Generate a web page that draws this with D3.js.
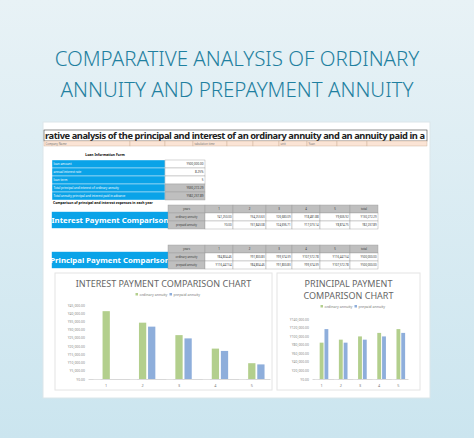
<!DOCTYPE html>
<html><head><meta charset="utf-8">
<script src="https://cdn.jsdelivr.net/npm/d3@7"></script>
<style>body{margin:0;overflow:hidden}text{font-family:"Noto Sans",sans-serif}</style>
</head><body>
<script>
// data
const years = [1, 2, 3, 4, 5];
const interestOrdinary = [41250.00, 34253.63, 26680.09, 18481.88, 9606.92];
const interestPrepaid = [0, 31843.08, 24696.71, 17073.14, 8874.75];
const principalOrdinary = [84804.46, 91800.83, 99374.39, 107572.78, 116447.54];
const principalPrepaid = [116447.54, 84804.46, 91800.83, 99374.39, 107572.78];
const loanLabels = ["loan amount", "annual interest rate", "loan term",
  "Total principal and interest of ordinary annuity", "Total annuity principal and interest paid in advance"];
const loanValues = ["¥500,000.00", "8.25%", "5", "¥630,272.29", "¥582,237.89"];
const interestTotals = ["¥130,272.29", "¥82,237.89"];
const principalTotals = ["¥500,000.00", "¥500,000.00"];

const W = 474, H = 438;
const svg = d3.select("body").append("svg").attr("width", W).attr("height", H);
const defs = svg.append("defs");
const g = defs.append("linearGradient").attr("id", "bg").attr("x1", 0).attr("y1", 0).attr("x2", 0).attr("y2", 1);
g.append("stop").attr("offset", 0).attr("stop-color", "#e8f2f6");
g.append("stop").attr("offset", 1).attr("stop-color", "#cbe5ef");
svg.append("rect").attr("width", W).attr("height", H).attr("fill", "url(#bg)");

["COMPARATIVE ANALYSIS OF ORDINARY", "ANNUITY AND PREPAYMENT ANNUITY"].forEach((t, i) =>
  svg.append("text").attr("x", 237).attr("y", 66 + i * 31).attr("text-anchor", "middle")
    .attr("font-size", 20.5).attr("fill", "#1f80a0").attr("font-weight", 300).text(t));

// card
svg.append("rect").attr("x", 43).attr("y", 122).attr("width", 387).attr("height", 276)
  .attr("fill", "#fff").attr("stroke", "#dbe6ea");

const fmt = v => "¥" + d3.format(",.2f")(v);
const cell = (x, y, w, h, fill, txt, opt = {}) => {
  svg.append("rect").attr("x", x).attr("y", y).attr("width", w).attr("height", h)
    .attr("fill", fill).attr("stroke", opt.stroke || "#9a9a9a").attr("stroke-width", 0.4);
  if (txt !== undefined) svg.append("text")
    .attr("x", opt.anchor === "start" ? x + 1.5 : opt.anchor === "end" ? x + w - 1.5 : x + w / 2)
    .attr("y", y + h / 2 + (opt.fs || 3.4) / 2.8).attr("text-anchor", opt.anchor || "middle")
    .attr("font-size", opt.fs || 3.4).attr("fill", opt.color || "#333").attr("font-weight", opt.bold ? "bold" : null)
    .text(txt);
};

// header strip
svg.append("rect").attr("x", 44).attr("y", 130).attr("width", 383).attr("height", 11).attr("fill", "#fff").attr("stroke", "#444").attr("stroke-width", 0.6);
svg.append("text").attr("x", 45).attr("y", 139).attr("font-size", 9.3).attr("font-weight", "bold").attr("fill", "#222")
  .attr("textLength", 380).text("rative analysis of the principal and interest of an ordinary annuity and an annuity paid in a");
const company = [[44, 86, "Company Name"], [130, 35, ""], [165, 28, ""], [193, 34, "tabulation time"], [227, 26, ""], [253, 26, ""], [279, 28, "unit"], [307, 30, "Yuan"], [337, 30, ""], [367, 60, ""]];
company.forEach(c => cell(c[0], 141, c[1], 5, "#fbe4d5", c[2], { anchor: "start", fs: 2.8, color: "#777", stroke: "#c8a890" }));

svg.append("text").attr("x", 105).attr("y", 156).attr("text-anchor", "middle").attr("font-size", 3.4).attr("font-weight", "bold").text("Loan Information Form");
loanLabels.forEach((l, i) => {
  cell(52, 160 + i * 8, 113, 8, "#0aa3e8", l, { anchor: "start", color: "#fff", fs: 3, stroke: "#fff" });
  cell(165, 160 + i * 8, 40, 8, i >= 3 ? "#bfbfbf" : "#fff", loanValues[i], { anchor: "end", fs: 3 });
});
svg.append("text").attr("x", 53).attr("y", 204).attr("font-size", 3.4).attr("font-weight", "bold").text("Comparison of principal and interest expenses in each year");

const colX = [172, 205, 233, 266, 292, 320, 350, 378, 406];
const block = (y0, title, r1, r2, t1, t2) => {
  cell(52, y0 + 7, 116, 16, "#0aa3e8", title, { fs: 7.8, color: "#fff", bold: true, stroke: "#0aa3e8" });
  const rows = [["years", ...years, "total"], ["ordinary annuity", ...r1.map(fmt), t1], ["prepaid annuity", ...r2.map(fmt), t2]];
  rows.forEach((row, ri) => row.forEach((v, ci) => {
    const fill = ci === 0 || ri === 0 ? "#bfbfbf" : "#fff";
    cell(colX[ci] - (ci === 0 ? 4 : 0), y0 + ri * 8, colX[ci + 1] - colX[ci] + (ci === 0 ? 4 : 0), 8, fill, v, { fs: 2.8, anchor: ri && ci ? "end" : "middle" });
  }));
};
block(205, "Interest Payment Comparison", interestOrdinary, interestPrepaid, ...interestTotals);
block(245, "Principal Payment Comparison", principalOrdinary, principalPrepaid, ...principalTotals);

// charts
const green = "#b3cf8d", blue = "#8eaedb";
const chart = (px, pw, titleLines, top, left, right, bottom, yMax, step, s1, s2) => {
  svg.append("rect").attr("x", px).attr("y", 273).attr("width", pw).attr("height", 117).attr("fill", "#fff").attr("stroke", "#e4e4e4");
  titleLines.forEach((t, i) => svg.append("text").attr("x", px + pw / 2).attr("y", 287 + i * 12).attr("text-anchor", "middle")
    .attr("font-size", 9).attr("fill", "#666").text(t));
  const ly = 287 + titleLines.length * 12 - 4;
  [["ordinary annuity", green], ["prepaid annuity", blue]].forEach((l, i) => {
    const lx = px + pw / 2 - 28 + i * 34;
    svg.append("rect").attr("x", lx).attr("y", ly - 2).attr("width", 2.5).attr("height", 2.5).attr("fill", l[1]);
    svg.append("text").attr("x", lx + 4).attr("y", ly + 0.8).attr("font-size", 3.6).attr("fill", "#777").text(l[0]);
  });
  const x = d3.scaleBand().domain(years).range([left, right]);
  const sub = d3.scaleBand().domain([0, 1, 2]).range([0, x.bandwidth()]).paddingInner(0.2).paddingOuter(0.6);
  const y = d3.scaleLinear().domain([0, yMax]).range([bottom, top]);
  const ya = svg.append("g").attr("transform", `translate(${left},0)`)
    .call(d3.axisLeft(y).tickValues(d3.range(0, yMax + 1, step)).tickSize(0).tickFormat(fmt));
  ya.select(".domain").remove();
  ya.selectAll("text").attr("font-size", 3.4).attr("fill", "#888").attr("font-family", "Noto Sans");
  const xa = svg.append("g").attr("transform", `translate(0,${bottom})`).call(d3.axisBottom(x).tickSize(0));
  xa.select(".domain").attr("stroke", "#d8d8d8");
  xa.selectAll("text").attr("font-size", 3.8).attr("fill", "#777").attr("dy", 5).attr("font-family", "Noto Sans");
  const series = [years.map(v => v), s1, s2];
  [["#e6e6e6", 0], [green, 1], [blue, 2]].forEach(([c, k]) =>
    svg.append("g").selectAll("rect").data(years).join("rect")
      .attr("x", d => x(d) + sub(k)).attr("width", sub.bandwidth())
      .attr("y", (d, i) => y(series[k][i])).attr("height", (d, i) => Math.max(bottom - y(series[k][i]), k === 0 ? 0.6 : 0))
      .attr("fill", c));
};
chart(55, 217, ["INTEREST PAYMENT COMPARISON CHART"], 305, 88, 270, 379, 45000, 5000, interestOrdinary, interestPrepaid);
chart(277, 143, ["PRINCIPAL PAYMENT", "COMPARISON CHART"], 319, 312, 408, 379, 140000, 20000, principalOrdinary, principalPrepaid);
</script>
</body></html>
